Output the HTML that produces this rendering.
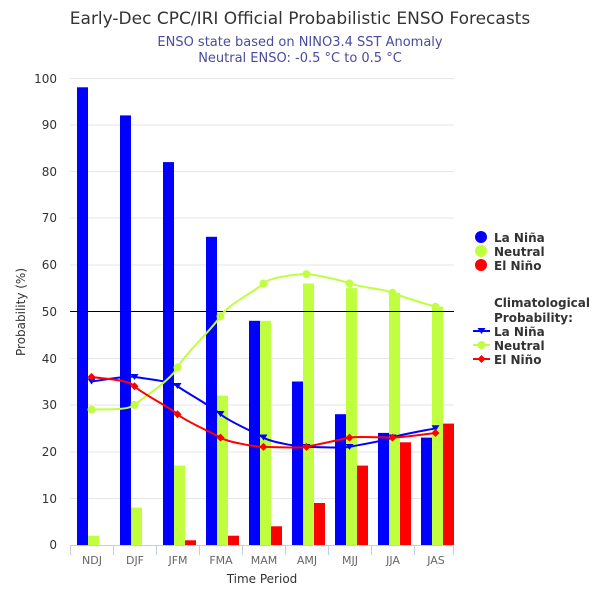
<!DOCTYPE html><html><head><style>body{margin:0;background:#fff}svg{font-family:"DejaVu Sans","Liberation Sans",sans-serif}</style></head><body>
<svg width="600" height="600" xmlns="http://www.w3.org/2000/svg">
<text x="300" y="24" text-anchor="middle" font-size="17" fill="#333">Early-Dec CPC/IRI Official Probabilistic ENSO Forecasts</text>
<text x="300" y="46" text-anchor="middle" font-size="13" fill="#4a4aa0">ENSO state based on NINO3.4 SST Anomaly</text>
<text x="300" y="62" text-anchor="middle" font-size="13" fill="#4a4aa0">Neutral ENSO: -0.5 °C to 0.5 °C</text>
<g stroke="#e6e6e6" stroke-width="1">
<line x1="70" x2="454" y1="78.5" y2="78.5"/><line x1="70" x2="454" y1="125" y2="125"/><line x1="70" x2="454" y1="171.5" y2="171.5"/><line x1="70" x2="454" y1="218" y2="218"/><line x1="70" x2="454" y1="265" y2="265"/><line x1="70" x2="454" y1="358.5" y2="358.5"/><line x1="70" x2="454" y1="405" y2="405"/><line x1="70" x2="454" y1="452" y2="452"/><line x1="70" x2="454" y1="498.5" y2="498.5"/>
</g>
<g font-size="12" fill="#333" text-anchor="end">
<text x="57" y="83">100</text><text x="57" y="129">90</text><text x="57" y="176">80</text><text x="57" y="222">70</text><text x="57" y="269">60</text><text x="57" y="316">50</text><text x="57" y="363">40</text><text x="57" y="409">30</text><text x="57" y="456">20</text><text x="57" y="503">10</text><text x="57" y="549">0</text>
</g>
<text transform="translate(25,312) rotate(-90)" text-anchor="middle" font-size="12" fill="#333">Probability (%)</text>
<g fill="#0000ff">
<rect x="77" y="87.3" width="11" height="457.7"/><rect x="120" y="115.4" width="11" height="429.6"/><rect x="163" y="162.1" width="11" height="382.9"/><rect x="206" y="236.8" width="11" height="308.2"/><rect x="249" y="320.8" width="11" height="224.2"/><rect x="292" y="381.5" width="11" height="163.5"/><rect x="335" y="414.2" width="11" height="130.8"/><rect x="378" y="432.9" width="11" height="112.1"/><rect x="421" y="437.6" width="11" height="107.4"/>
</g>
<g fill="#bfff3f">
<rect x="88" y="535.7" width="11" height="9.3"/><rect x="131" y="507.6" width="11" height="37.4"/><rect x="174" y="465.6" width="11" height="79.4"/><rect x="217" y="395.6" width="11" height="149.4"/><rect x="260" y="320.8" width="11" height="224.2"/><rect x="303" y="283.5" width="11" height="261.5"/><rect x="346" y="288.1" width="11" height="256.9"/><rect x="389" y="292.8" width="11" height="252.2"/><rect x="432" y="306.8" width="11" height="238.2"/>
</g>
<g fill="#ff0000">
<rect x="185" y="540.3" width="11" height="4.7"/><rect x="228" y="535.7" width="11" height="9.3"/><rect x="271" y="526.3" width="11" height="18.7"/><rect x="314" y="503" width="11" height="42"/><rect x="357" y="465.6" width="11" height="79.4"/><rect x="400" y="442.3" width="11" height="102.7"/><rect x="443" y="423.6" width="11" height="121.4"/>
</g>
<line x1="70" x2="454" y1="311.5" y2="311.5" stroke="#000" stroke-width="1"/>
<path fill="none" stroke="#0000ff" stroke-width="2" d="M91.5,381.5 C98.7,380.7 127.3,375.4 134.5,376.9 C141.7,378.4 170.3,380.7 177.5,386.2 C184.7,391.7 213.3,407.4 220.5,414.2 C227.7,421 256.3,433.1 263.5,437.6 C270.7,442.1 299.3,446.9 306.5,446.9 C313.7,446.9 342.3,448.5 349.5,446.9 C356.7,445.3 385.3,440.7 392.5,437.6 C399.7,434.5 428.3,429.9 435.5,428.3"/>
<path fill="none" stroke="#bfff3f" stroke-width="2" d="M91.5,409.6 C98.7,408.8 127.3,411.2 134.5,404.9 C141.7,398.6 170.3,380.7 177.5,367.5 C184.7,354.3 213.3,327.8 220.5,316.2 C227.7,304.6 256.3,290.5 263.5,283.5 C270.7,276.5 299.3,274.1 306.5,274.1 C313.7,274.1 342.3,280.4 349.5,283.5 C356.7,286.6 385.3,289.2 392.5,292.8 C399.7,296.4 428.3,304.5 435.5,306.8"/>
<path fill="none" stroke="#ff0000" stroke-width="2" d="M91.5,376.9 C98.7,378.5 127.3,378.8 134.5,386.2 C141.7,393.6 170.3,407.4 177.5,414.2 C184.7,421 213.3,433.1 220.5,437.6 C227.7,442.1 256.3,446.9 263.5,446.9 C270.7,446.9 299.3,448.5 306.5,446.9 C313.7,445.3 342.3,439.2 349.5,437.6 C356.7,436 385.3,437.6 392.5,437.6 C399.7,437.6 428.3,433.8 435.5,433"/>
<g fill="#0000ff">
<path d="M87.5,378.5h8l-4,6z"/><path d="M130.5,374h8l-4,6z"/><path d="M173.5,383h8l-4,6z"/><path d="M216.5,411h8l-4,6z"/><path d="M259.5,434.5h8l-4,6z"/><path d="M302.5,444h8l-4,6z"/><path d="M345.5,444h8l-4,6z"/><path d="M388.5,434.5h8l-4,6z"/><path d="M431.5,425.3h8l-4,6z"/>
</g>
<g fill="#bfff3f">
<circle cx="91.5" cy="409.6" r="4"/><circle cx="134.5" cy="404.9" r="4"/><circle cx="177.5" cy="367.5" r="4"/><circle cx="220.5" cy="316.2" r="4"/><circle cx="263.5" cy="283.5" r="4"/><circle cx="306.5" cy="274.1" r="4"/><circle cx="349.5" cy="283.5" r="4"/><circle cx="392.5" cy="292.8" r="4"/><circle cx="435.5" cy="306.8" r="4"/>
</g>
<g fill="#ff0000">
<path d="M91.5,372.9l4,4l-4,4l-4,-4z"/><path d="M134.5,382.2l4,4l-4,4l-4,-4z"/><path d="M177.5,410.2l4,4l-4,4l-4,-4z"/><path d="M220.5,433.6l4,4l-4,4l-4,-4z"/><path d="M263.5,442.9l4,4l-4,4l-4,-4z"/><path d="M306.5,442.9l4,4l-4,4l-4,-4z"/><path d="M349.5,433.6l4,4l-4,4l-4,-4z"/><path d="M392.5,433.6l4,4l-4,4l-4,-4z"/><path d="M435.5,429l4,4l-4,4l-4,-4z"/>
</g>
<line x1="70" x2="454" y1="545.5" y2="545.5" stroke="#c0d0e0"/>
<g stroke="#c0d0e0"><line x1="70.5" x2="70.5" y1="545" y2="555"/><line x1="113.5" x2="113.5" y1="545" y2="555"/><line x1="156.5" x2="156.5" y1="545" y2="555"/><line x1="199.5" x2="199.5" y1="545" y2="555"/><line x1="242.5" x2="242.5" y1="545" y2="555"/><line x1="285.5" x2="285.5" y1="545" y2="555"/><line x1="328.5" x2="328.5" y1="545" y2="555"/><line x1="371.5" x2="371.5" y1="545" y2="555"/><line x1="414.5" x2="414.5" y1="545" y2="555"/><line x1="453.5" x2="453.5" y1="545" y2="555"/></g>
<g font-size="11" fill="#666" text-anchor="middle">
<text x="92" y="564">NDJ</text><text x="135" y="564">DJF</text><text x="178" y="564">JFM</text><text x="221" y="564">FMA</text><text x="264" y="564">MAM</text><text x="307" y="564">AMJ</text><text x="350" y="564">MJJ</text><text x="393" y="564">JJA</text><text x="436" y="564">JAS</text>
</g>
<text x="262" y="583" text-anchor="middle" font-size="12" fill="#333">Time Period</text>
<g font-size="12" font-weight="bold" fill="#333">
<circle cx="481" cy="237" r="6" fill="#0000ff"/><text x="494" y="242">La Niña</text>
<circle cx="481" cy="251" r="6" fill="#bfff3f"/><text x="494" y="256">Neutral</text>
<circle cx="481" cy="265" r="6" fill="#ff0000"/><text x="494" y="270">El Niño</text>
<text x="494" y="307">Climatological</text><text x="494" y="322">Probability:</text>
<line x1="473" x2="490" y1="331" y2="331" stroke="#0000ff" stroke-width="2"/><path d="M477.5,328h8l-4,6z" fill="#0000ff"/><text x="494" y="336">La Niña</text>
<line x1="473" x2="490" y1="345" y2="345" stroke="#bfff3f" stroke-width="2"/><circle cx="481.5" cy="345" r="4" fill="#bfff3f"/><text x="494" y="350">Neutral</text>
<line x1="473" x2="490" y1="359" y2="359" stroke="#ff0000" stroke-width="2"/><path d="M481.5,355l4,4l-4,4l-4,-4z" fill="#ff0000"/><text x="494" y="364">El Niño</text>
</g>
</svg></body></html>
